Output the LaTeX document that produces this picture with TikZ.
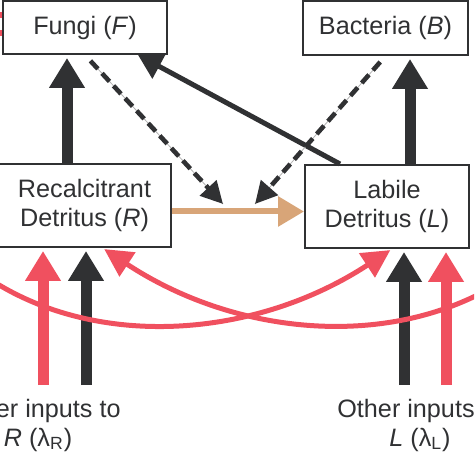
\documentclass[tikz,border=0pt]{standalone}
\usepackage{fontspec}
\setmainfont{Liberation Sans}
\usetikzlibrary{arrows.meta}

\begin{document}
\begin{tikzpicture}[x=0.5pt,y=-0.5pt,
  pool/.style={draw=ink,line width=1pt,fill=white,inner sep=0pt,align=center,text=ink,font=\fontsize{12.6}{14.5}\selectfont},
  fat/.style={ink,line width=5.5pt,shorten >=1.5pt,-{Triangle[length=15pt,width=17pt]}},
  eat/.style={ink,line width=2.5pt,-{Triangle[length=12pt,width=13.5pt]}},
  die/.style={ink,line width=2.3pt,dash pattern=on 5.5pt off 3pt,shorten <=4pt,-{Triangle[length=11pt,width=11pt]},
    preaction={draw=black!30,line width=0.4pt,solid,-}},
  decay/.style={tan,line width=3pt,-{Triangle[length=13pt,width=14.5pt]}},
  cross/.style={inred,line width=2.5pt,shorten >=1pt,-{Triangle[length=14pt,width=14pt]}},
  inputs/.style={align=center,text=ink,inner sep=0pt,font=\fontsize{12.6}{14.5}\selectfont}]
\definecolor{ink}{HTML}{303133}
\definecolor{inred}{HTML}{F0505F}
\definecolor{tan}{HTML}{D8A578}
\useasboundingbox (0,0) rectangle (474,474);
\clip (0,0) rectangle (474,474);
% pools
\node [pool,minimum width=82pt,minimum height=26.5pt] (fungi) at (85,27.5) {Fungi (\textit{F})};
\node [pool,minimum width=82.5pt,minimum height=27pt] (bacteria) at (385.5,28) {Bacteria (\textit{B})};
\node [pool,minimum width=86.5pt,minimum height=41.5pt] (recal) at (84.5,205.5) {Recalcitrant\\Detritus (\textit{R})};
\node [pool,minimum width=82pt,minimum height=41.5pt] (labile) at (387,206.5) {Labile\\Detritus (\textit{L})};
% uptake
\coordinate (rf) at (67,164);
\coordinate (lb) at (410,165);
\draw[fat] (rf) -- (rf |- fungi.south);
\draw[fat] (lb) -- (lb |- bacteria.south);
\draw[eat] ([xshift=-23.5pt]labile.north) -- ([xshift=-15pt]fungi.south east);
% mortality
\coordinate (midL) at (223,204);
\coordinate (midR) at (255,204);
\draw[die] (fungi.south) -- (midL);
\draw[die] (bacteria.south) -- (midR);
\draw[decay] ([yshift=-3pt]recal.east) -- ([yshift=-3pt]recal.east -| labile.west);
% inputs
\foreach \clr/\xpos/\pool in {inred/43/recal,ink/86/recal,ink/404/labile,inred/446/labile}
{  \coordinate (src\xpos) at (\xpos,385);
   \draw[fat,\clr] (src\xpos) -- (src\xpos |- \pool.south);}
\coordinate (offL) at (-30,265);
\coordinate (offR) at (525,265);
\draw[cross] (offL) .. controls (80,352) and (250,342) .. ([xshift=2.5pt]labile.south);
\draw[cross] (offR) .. controls (415,352) and (245,342) .. ([xshift=9pt]recal.south);
\coordinate (edgeA) at (0,12);
\coordinate (edgeB) at (0,40);
\draw[inred,line width=2pt,dash pattern=on 3pt off 6pt] (edgeA) -- (edgeB);
\node [inputs] (inR) at (38,425) {Other inputs to\\\textit{R} (λ\textsubscript{R})};
\node [inputs] (inL) at (420,425) {Other inputs to\\\textit{L} (λ\textsubscript{L})};
\end{tikzpicture}
\end{document}
